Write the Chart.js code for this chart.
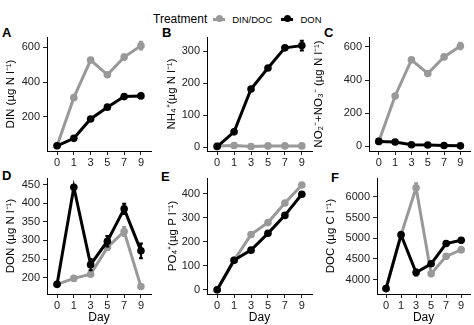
<!DOCTYPE html>
<html>
<head>
<meta charset="utf-8">
<script src="https://cdn.jsdelivr.net/npm/chart.js@4.4.0/dist/chart.umd.min.js"></script>
<style>
  body { margin: 0; width: 474px; height: 325px; background: #fff; position: relative; overflow: hidden;
         font-family: "Liberation Sans", Arial, sans-serif; }
  canvas { position: absolute; }
  .lab { position: absolute; font-weight: bold; font-size: 13px; line-height: 13px; }
  #legend { position: absolute; left: 153px; top: 12px; height: 14px; display: flex; align-items: center; white-space: nowrap; }
  #legend .ttl { font-size: 12px; }
  #legend .txt { font-size: 9.5px; }
  .key { display: inline-block; position: relative; width: 12px; height: 3px; margin: 0 7px 0 6px; }
  .key i { position: absolute; left: 2.5px; top: -2.5px; width: 7px; height: 7px; border-radius: 50%; }
</style>
</head>
<body>
<div id="legend">
  <span class="ttl">Treatment</span>
  <span class="key" style="background:#999"><i style="background:#999"></i></span><span class="txt">DIN/DOC</span>
  <span class="key" style="background:#000;margin-left:9px"><i style="background:#000"></i></span><span class="txt">DON</span>
</div>
<div class="lab" style="left:2px;top:26px">A</div>
<div class="lab" style="left:162px;top:26px">B</div>
<div class="lab" style="left:324px;top:26px">C</div>
<div class="lab" style="left:2px;top:169px">D</div>
<div class="lab" style="left:161px;top:170px">E</div>
<div class="lab" style="left:331px;top:171px">F</div>

<canvas id="cA"></canvas>
<canvas id="cB"></canvas>
<canvas id="cC"></canvas>
<canvas id="cD"></canvas>
<canvas id="cE"></canvas>
<canvas id="cF"></canvas>

<script>
const days = ['0', '1', '3', '5', '7', '9'];

// A: DIN
const dinDinDoc = [32, 310, 527, 442, 544, 610];
const dinDinDocErr = [3, 8, 8, 10, 15, 22];
const dinDon = [32, 75, 187, 255, 316, 320];
const dinDonErr = [2, 4, 5, 6, 6, 12];
// B: NH4
const nh4DinDoc = [4, 5, 2, 4, 4, 4];
const nh4DinDocErr = [1, 1, 1, 1, 1, 1];
const nh4Don = [2, 48, 182, 248, 311, 318];
const nh4DonErr = [1, 3, 4, 4, 6, 15];
// C: NO2+NO3
const noxDinDoc = [30, 304, 522, 440, 540, 606];
const noxDinDocErr = [2, 10, 6, 8, 12, 20];
const noxDon = [30, 26, 10, 8, 5, 3];
const noxDonErr = [2, 2, 1, 1, 1, 1];
// D: DON
const donDinDoc = [182, 198, 209, 281, 324, 176];
const donDinDocErr = [2, 3, 3, 5, 12, 3];
const donDon = [182, 443, 235, 298, 385, 272];
const donDonErr = [3, 6, 15, 14, 14, 20];
// E: PO4
const po4DinDoc = [0, 123, 230, 280, 362, 437];
const po4DinDocErr = [1, 3, 5, 5, 5, 6];
const po4Don = [0, 123, 165, 235, 310, 398];
const po4DonErr = [1, 3, 4, 5, 5, 8];
// F: DOC
const docDinDoc = [3780, 5080, 6220, 4140, 4560, 4720];
const docDinDocErr = [20, 40, 110, 40, 40, 60];
const docDon = [3780, 5080, 4170, 4380, 4870, 4950];
const docDonErr = [20, 50, 70, 30, 40, 50];

const ticksA = [200, 400, 600];
const ticksB = [0, 100, 200, 300];
const ticksC = [0, 200, 400, 600];
const ticksD = [200, 250, 300, 350, 400, 450];
const ticksE = [0, 100, 200, 300, 400];
const ticksF = [4000, 4500, 5000, 5500, 6000];

const GREY = '#999999';
const BLACK = '#000000';
const FONT = "'Liberation Sans', Arial, sans-serif";

// thin vertical error bars, drawn with each dataset so layering follows the lines
const errorBars = {
  id: 'errorBars',
  afterDatasetDraw(chart, args) {
    const ds = chart.data.datasets[args.index];
    if (!ds.errors) return;
    const y = chart.scales.y, ctx = chart.ctx;
    ctx.save();
    ctx.strokeStyle = ds.borderColor;
    ctx.lineWidth = 2;
    args.meta.data.forEach((pt, i) => {
      const v = ds.data[i].y, e = ds.errors[i];
      const y0 = y.getPixelForValue(v - e), y1 = y.getPixelForValue(v + e);
      ctx.beginPath();
      ctx.moveTo(pt.x, y0); ctx.lineTo(pt.x, y1);
      ctx.moveTo(pt.x - 2, y0); ctx.lineTo(pt.x + 2, y0);
      ctx.moveTo(pt.x - 2, y1); ctx.lineTo(pt.x + 2, y1);
      ctx.stroke();
    });
    ctx.restore();
  }
};

function series(vals, errs, color) {
  return {
    data: vals.map((v, i) => ({ x: i, y: v })),
    errors: errs,
    borderColor: color,
    backgroundColor: color,
    borderWidth: 3,
    pointRadius: 3.8,
    pointHoverRadius: 3.8,
    pointBorderWidth: 0,
    tension: 0
  };
}

function panel(id, p) {
  const c = document.getElementById(id);
  c.width = p.w; c.height = p.h;
  c.style.left = p.left + 'px'; c.style.top = p.top + 'px';
  new Chart(c, {
    type: 'line',
    data: {
      // DON first so it sits on top of DIN/DOC
      datasets: [series(p.don, p.donErr, BLACK), series(p.dd, p.ddErr, GREY)]
    },
    options: {
      responsive: false,
      animation: false,
      devicePixelRatio: 1,
      layout: { padding: { top: p.padTop, right: p.padRight, left: 0, bottom: 0 } },
      plugins: { legend: { display: false }, tooltip: { enabled: false } },
      scales: {
        x: {
          type: 'linear', min: -0.6, max: 5.6,
          afterBuildTicks: s => { s.ticks = days.map((d, i) => ({ value: i })); },
          afterFit: s => { s.height = p.xh; },
          ticks: { callback: v => days[v], font: { family: FONT, size: 11 }, color: '#222', padding: 1, maxRotation: 0, autoSkip: false },
          grid: { drawOnChartArea: false, tickLength: 4, tickColor: '#222' },
          border: { color: '#000', width: 1 },
          title: { display: !!p.xTitle, text: 'Day', font: { family: FONT, size: 12 }, color: '#000', padding: { top: 0, bottom: 0 } }
        },
        y: {
          min: p.yMin, max: p.yMax,
          afterBuildTicks: s => { s.ticks = p.yTicks.map(v => ({ value: v })); },
          afterFit: s => { s.width = p.yw; },
          ticks: { callback: v => String(v), font: { family: FONT, size: 11 }, color: '#222', padding: 3 },
          grid: { drawOnChartArea: false, tickLength: 4, tickColor: '#222' },
          border: { color: '#000', width: 1 },
          title: { display: true, text: p.yTitle, font: { family: FONT, size: 11.5 }, color: '#000', padding: { top: p.tPad, bottom: 0 } }
        }
      }
    },
    plugins: [errorBars]
  });
}

panel('cA', { left: 0, top: 25, w: 156, h: 142, yw: 47, padTop: 12, padRight: 5, xh: 16, tPad: 3.6,
  yMin: 2, yMax: 660, yTicks: ticksA, yTitle: 'DIN (µg N l⁻¹)',
  dd: dinDinDoc, ddErr: dinDinDocErr, don: dinDon, donErr: dinDonErr });
panel('cB', { left: 158, top: 25, w: 158, h: 142, yw: 49, padTop: 12, padRight: 4, xh: 16, tPad: 7,
  yMin: -12, yMax: 345, yTicks: ticksB, yTitle: 'NH₄⁺(µg N l⁻¹)',
  dd: nh4DinDoc, ddErr: nh4DinDocErr, don: nh4Don, donErr: nh4DonErr });
panel('cC', { left: 305, top: 25, w: 169, h: 142, yw: 64, padTop: 12, padRight: 1, xh: 16, tPad: 6.6,
  yMin: -28, yMax: 660, yTicks: ticksC, yTitle: 'NO₂⁻+NO₃⁻ (µg N l⁻¹)',
  dd: noxDinDoc, ddErr: noxDinDocErr, don: noxDon, donErr: noxDonErr });
panel('cD', { left: 0, top: 167, w: 156, h: 158, yw: 47, padTop: 11, padRight: 5, xh: 31, tPad: 3.6, xTitle: true,
  yMin: 156, yMax: 468, yTicks: ticksD, yTitle: 'DON (µg N l⁻¹)',
  dd: donDinDoc, ddErr: donDinDocErr, don: donDon, donErr: donDonErr });
panel('cE', { left: 158, top: 167, w: 158, h: 158, yw: 49, padTop: 11, padRight: 4, xh: 31, tPad: 8, xTitle: true,
  yMin: -18, yMax: 466, yTicks: ticksE, yTitle: 'PO₄⁺(µg P l⁻¹)',
  dd: po4DinDoc, ddErr: po4DinDocErr, don: po4Don, donErr: po4DonErr });
panel('cF', { left: 318, top: 167, w: 156, h: 158, yw: 59, padTop: 11, padRight: 1, xh: 31, tPad: 6, xTitle: true,
  yMin: 3650, yMax: 6455, yTicks: ticksF, yTitle: 'DOC (µg C l⁻¹)',
  dd: docDinDoc, ddErr: docDinDocErr, don: docDon, donErr: docDonErr });
</script>
</body>
</html>
